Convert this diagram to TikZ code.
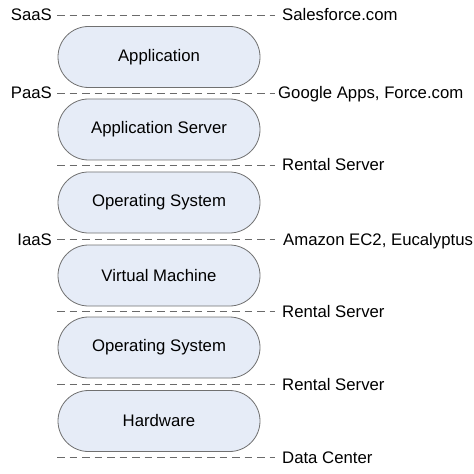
\documentclass[tikz,border=0pt]{standalone}
\usepackage{fontspec}
\setmainfont{Liberation Sans}
\definecolor{boxfill}{HTML}{E6ECF7}
\definecolor{boxline}{HTML}{707070}
\definecolor{dashline}{HTML}{6A6A6A}
\begin{document}
\begin{tikzpicture}[x=1bp,y=-1bp,
  layer/.style={draw=boxline,line width=0.8pt,fill=boxfill,rounded corners=30.5bp,
    minimum width=202bp,minimum height=61bp,inner sep=0pt,font=\fontsize{16.8}{19}\selectfont},
  lab/.style={inner sep=0pt,font=\fontsize{16.8}{19}\selectfont},
  sep/.style={draw=dashline,line width=0.8pt,dash pattern=on 7.5bp off 5bp}]
\useasboundingbox (0,0) rectangle (474,474);
% layers
\node[layer] (app) at (159,57) {Application};
\node[layer] (as) at (159,129.5) {Application Server};
\node[layer] (os1) at (159,202.5) {Operating System};
\node[layer] (vm) at (159,275.5) {Virtual Machine};
\node[layer] (os2) at (159,347.5) {Operating System};
\node[layer] (hw) at (159,421) {Hardware};
% separator end points
\foreach \i/\y in {1/15,2/93,3/165,4/239,5/311,6/384,7/457}{
  \coordinate (l\i) at (57,\y);
  \coordinate (r\i) at (275,\y);
}
% left labels
\node[lab,anchor=base east] (saas) at ([xshift=-5bp,yshift=-6bp]l1) {SaaS};
\node[lab,anchor=base east] (paas) at ([xshift=-5bp,yshift=-6bp]l2) {PaaS};
\node[lab,anchor=base east] (iaas) at ([xshift=-5bp,yshift=-6bp]l4) {IaaS};
% right labels
\node[lab,anchor=base west] (t1) at ([xshift=7bp,yshift=-6bp]r1) {Salesforce.com};
\node[lab,anchor=base west] (t2) at ([xshift=3bp,yshift=-6bp]r2) {Google Apps, Force.com};
\node[lab,anchor=base west] (t3) at ([xshift=7bp,yshift=-6bp]r3) {Rental Server};
\node[lab,anchor=base west] (t4) at ([xshift=8bp,yshift=-6bp]r4) {Amazon EC2, Eucalyptus};
\node[lab,anchor=base west] (t5) at ([xshift=7bp,yshift=-6bp]r5) {Rental Server};
\node[lab,anchor=base west] (t6) at ([xshift=7bp,yshift=-6bp]r6) {Rental Server};
\node[lab,anchor=base west] (t7) at ([xshift=7bp,yshift=-6bp]r7) {Data Center};
% separators
\foreach \i in {1,...,7}{ \draw[sep] (l\i) -- (r\i); }
\end{tikzpicture}
\end{document}
